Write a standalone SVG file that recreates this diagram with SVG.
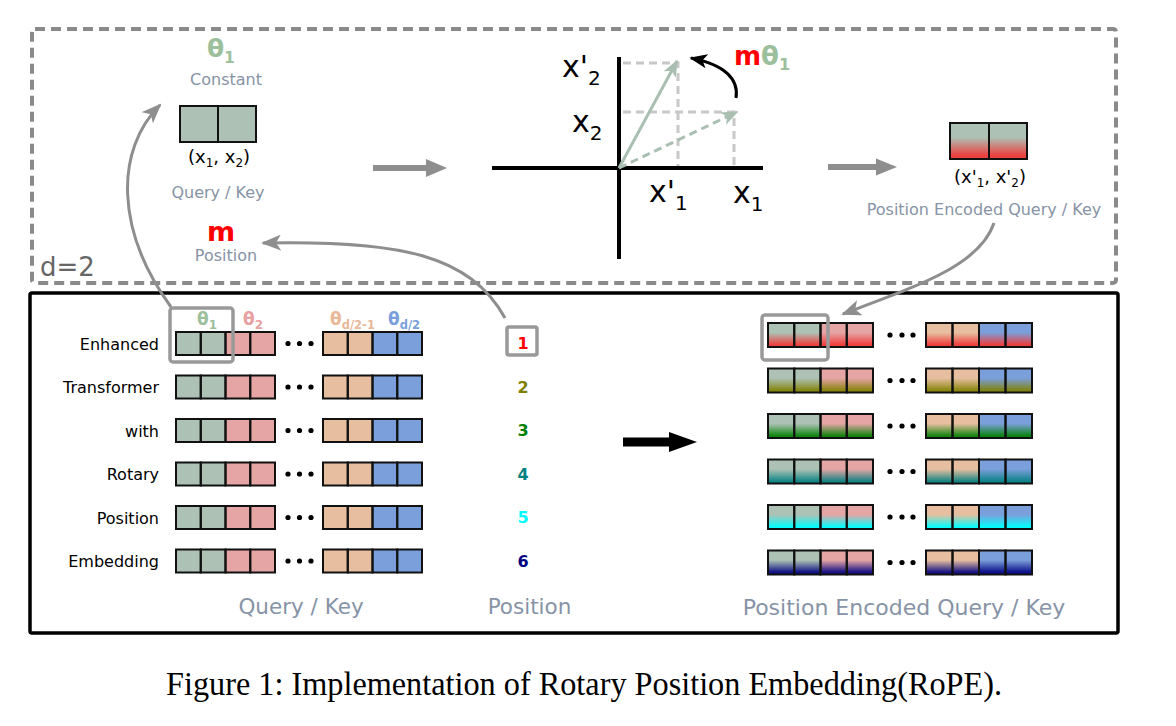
<svg xmlns="http://www.w3.org/2000/svg" xmlns:xlink="http://www.w3.org/1999/xlink" width="1176" height="726" viewBox="0 0 1176 726">
<style>
text{font-family:"DejaVu Sans","Liberation Sans",sans-serif}
text.cap{font-family:"Liberation Serif","Times New Roman",serif}
.lab{font-size:16px;fill:#8793a6}
.big{font-size:21.5px;fill:#8793a6}
.ax{font-size:30px;fill:#000}
.b{font-weight:bold}
.rl{font-size:16px;fill:#000;text-anchor:end}
.num{font-size:16px;font-weight:bold;text-anchor:middle}
.gr{fill:#adc2b5}.pk{fill:#e5a5a5}.pc{fill:#e7bfa0}.bl{fill:#7b9fdb}
.cs{stroke:#111;stroke-width:2;fill:none}
.hl{fill:none;stroke:#999;stroke-width:3.5}
.conn{fill:none;stroke:#8e8e8e;stroke-width:3}
.guide{fill:none;stroke:#c8c8c8;stroke-width:3;stroke-dasharray:8 5}
</style>
<defs>
<marker id="ah" viewBox="0 0 20 16" refX="18" refY="8" markerWidth="20" markerHeight="16" markerUnits="userSpaceOnUse" orient="auto"><path d="M0,0 L20,8 L0,16 L5,8 z" fill="#8e8e8e"/></marker>
<marker id="ahk" viewBox="0 0 20 16" refX="18" refY="8" markerWidth="18" markerHeight="15" markerUnits="userSpaceOnUse" orient="auto"><path d="M0,0 L20,8 L0,16 L5,8 z" fill="#000"/></marker>
<marker id="ahg" viewBox="0 0 20 16" refX="18" refY="8" markerWidth="17" markerHeight="14" markerUnits="userSpaceOnUse" orient="auto"><path d="M0,0 L20,8 L0,16 L5,8 z" fill="#a9bfb1"/></marker>
<linearGradient id="r1" x1="0" y1="0" x2="0" y2="1"><stop offset="0.4" stop-color="#f03a3a" stop-opacity="0"/><stop offset="0.9" stop-color="#f03a3a" stop-opacity="0.95"/></linearGradient>
<linearGradient id="r2" x1="0" y1="0" x2="0" y2="1"><stop offset="0.4" stop-color="#808000" stop-opacity="0"/><stop offset="0.9" stop-color="#808000" stop-opacity="0.9"/></linearGradient>
<linearGradient id="r3" x1="0" y1="0" x2="0" y2="1"><stop offset="0.4" stop-color="#008000" stop-opacity="0"/><stop offset="0.9" stop-color="#008000" stop-opacity="0.9"/></linearGradient>
<linearGradient id="r4" x1="0" y1="0" x2="0" y2="1"><stop offset="0.4" stop-color="#008080" stop-opacity="0"/><stop offset="0.9" stop-color="#008080" stop-opacity="0.9"/></linearGradient>
<linearGradient id="r5" x1="0" y1="0" x2="0" y2="1"><stop offset="0.4" stop-color="#00ffff" stop-opacity="0"/><stop offset="0.9" stop-color="#00ffff" stop-opacity="0.95"/></linearGradient>
<linearGradient id="r6" x1="0" y1="0" x2="0" y2="1"><stop offset="0.4" stop-color="#000080" stop-opacity="0"/><stop offset="0.9" stop-color="#000080" stop-opacity="0.9"/></linearGradient>
<g id="qk">
<rect class="gr" x="176" y="0" width="24.75" height="23"/><rect class="gr" x="200.75" y="0" width="24.75" height="23"/>
<rect class="pk" x="225.5" y="0" width="24.75" height="23"/><rect class="pk" x="250.25" y="0" width="24.75" height="23"/>
<rect class="pc" x="323" y="0" width="24.75" height="23"/><rect class="pc" x="347.75" y="0" width="24.75" height="23"/>
<rect class="bl" x="372.5" y="0" width="24.75" height="23"/><rect class="bl" x="397.25" y="0" width="24.75" height="23"/>
<g class="cs"><rect x="176" y="0" width="24.75" height="23"/><rect x="200.75" y="0" width="24.75" height="23"/><rect x="225.5" y="0" width="24.75" height="23"/><rect x="250.25" y="0" width="24.75" height="23"/>
<rect x="323" y="0" width="24.75" height="23"/><rect x="347.75" y="0" width="24.75" height="23"/><rect x="372.5" y="0" width="24.75" height="23"/><rect x="397.25" y="0" width="24.75" height="23"/></g>
<circle cx="288" cy="11.5" r="2.6"/><circle cx="299.5" cy="11.5" r="2.6"/><circle cx="311" cy="11.5" r="2.6"/>
</g>
<g id="pebase">
<rect class="gr" x="768" y="0" width="26.25" height="24"/><rect class="gr" x="794.25" y="0" width="26.25" height="24"/>
<rect class="pk" x="820.5" y="0" width="26.25" height="24"/><rect class="pk" x="846.75" y="0" width="26.25" height="24"/>
<rect class="pc" x="926" y="0" width="26.5" height="24"/><rect class="pc" x="952.5" y="0" width="26.5" height="24"/>
<rect class="bl" x="979" y="0" width="26.5" height="24"/><rect class="bl" x="1005.5" y="0" width="26.5" height="24"/>
</g>
<g id="pegrid">
<g class="cs"><rect x="768" y="0" width="26.25" height="24"/><rect x="794.25" y="0" width="26.25" height="24"/><rect x="820.5" y="0" width="26.25" height="24"/><rect x="846.75" y="0" width="26.25" height="24"/>
<rect x="926" y="0" width="26.5" height="24"/><rect x="952.5" y="0" width="26.5" height="24"/><rect x="979" y="0" width="26.5" height="24"/><rect x="1005.5" y="0" width="26.5" height="24"/></g>
<circle cx="890" cy="12" r="2.6"/><circle cx="902" cy="12" r="2.6"/><circle cx="913" cy="12" r="2.6"/>
</g>
</defs>
<rect width="1176" height="726" fill="#fff"/>

<!-- frames -->
<g id="frame-d2">
<rect x="32" y="29" width="1084" height="254" rx="3" fill="none" stroke="#8a8a8a" stroke-width="4" stroke-dasharray="10 6"/>
<text x="40" y="276" font-size="26" fill="#666">d=2</text>
</g>
<g id="frame-main">
<rect x="30" y="293" width="1088" height="340" rx="2" fill="none" stroke="#000" stroke-width="3.5"/>
</g>

<!-- top left: constant / query key / position -->
<g id="theta-constant">
<text x="207" y="57" class="b" font-size="25" fill="#9cbf9c">θ<tspan font-size="15" dy="6">1</tspan></text>
<text x="226" y="85" class="lab" text-anchor="middle">Constant</text>
</g>
<g id="query-key-2d">
<rect class="gr" x="180" y="106" width="76" height="36"/>
<rect class="cs" x="180" y="106" width="38" height="36" stroke-width="2.5"/>
<rect class="cs" x="218" y="106" width="38" height="36" stroke-width="2.5"/>
<text x="219" y="163" font-size="18" text-anchor="middle">(x<tspan font-size="12" dy="4">1</tspan><tspan dy="-4">, x</tspan><tspan font-size="12" dy="4">2</tspan><tspan dy="-4">)</tspan></text>
<text x="218" y="198" class="lab" text-anchor="middle">Query / Key</text>
</g>
<g id="position-m">
<text x="221" y="241" class="b" font-size="27" fill="#ff0000" text-anchor="middle">m</text>
<text x="226" y="261" class="lab" text-anchor="middle">Position</text>
</g>

<!-- rotation plot -->
<g id="rotation-plot">
<path class="guide" d="M623 63 H678 V168 M623 112 H734 V168"/>
<line x1="492" y1="168" x2="763" y2="168" stroke="#000" stroke-width="4"/>
<line x1="619" y1="57" x2="619" y2="259" stroke="#000" stroke-width="4"/>
<line x1="619" y1="168" x2="677" y2="61" stroke="#a9bfb1" stroke-width="3" marker-end="url(#ahg)"/>
<line x1="619" y1="168" x2="737" y2="112" stroke="#a9bfb1" stroke-width="3" stroke-dasharray="8 5" marker-end="url(#ahg)"/>
<path d="M736 98 C739 80 726 65 691 58" fill="none" stroke="#000" stroke-width="3" marker-end="url(#ahk)"/>
<text x="562" y="77" class="ax">x'<tspan font-size="20" dy="8">2</tspan></text>
<text x="572" y="132" class="ax">x<tspan font-size="20" dy="8">2</tspan></text>
<text x="649" y="202" class="ax">x'<tspan font-size="20" dy="8">1</tspan></text>
<text x="733" y="203" class="ax">x<tspan font-size="20" dy="8">1</tspan></text>
<text x="734" y="65" class="b" font-size="26" fill="#ff0000">m<tspan fill="#9cbf9c">θ</tspan><tspan fill="#9cbf9c" font-size="16" dy="5">1</tspan></text>
</g>

<!-- top right -->
<g id="encoded-2d">
<rect class="gr" x="950" y="123" width="77" height="36"/>
<rect x="950" y="123" width="77" height="36" fill="url(#r1)"/>
<rect class="cs" x="950" y="123" width="39" height="36" stroke-width="2.5"/>
<rect class="cs" x="989" y="123" width="38" height="36" stroke-width="2.5"/>
<text x="990" y="183" font-size="18" text-anchor="middle">(x'<tspan font-size="12" dy="4">1</tspan><tspan dy="-4">, x'</tspan><tspan font-size="12" dy="4">2</tspan><tspan dy="-4">)</tspan></text>
<text x="984" y="215" class="lab" text-anchor="middle">Position Encoded Query / Key</text>
</g>

<!-- bottom left: query/key rows -->
<g id="theta-labels" class="b">
<text x="197" y="325" font-size="17" fill="#9cbf9c">θ<tspan font-size="12" dy="4">1</tspan></text>
<text x="243" y="325" font-size="17" fill="#e8a0a0">θ<tspan font-size="12" dy="4">2</tspan></text>
<text x="330" y="325" font-size="17" fill="#e8b898">θ<tspan font-size="11.5" dy="4">d/2-1</tspan></text>
<text x="388" y="325" font-size="17" fill="#7a9fdc">θ<tspan font-size="11.5" dy="4">d/2</tspan></text>
</g>
<g id="row-1"><text x="159" y="349.5" class="rl">Enhanced</text><use xlink:href="#qk" y="332"/></g>
<g id="row-2"><text x="159" y="393" class="rl">Transformer</text><use xlink:href="#qk" y="375.5"/></g>
<g id="row-3"><text x="159" y="436.5" class="rl">with</text><use xlink:href="#qk" y="419"/></g>
<g id="row-4"><text x="159" y="480" class="rl">Rotary</text><use xlink:href="#qk" y="462.5"/></g>
<g id="row-5"><text x="159" y="523.5" class="rl">Position</text><use xlink:href="#qk" y="506"/></g>
<g id="row-6"><text x="159" y="567" class="rl">Embedding</text><use xlink:href="#qk" y="549.5"/></g>
<g id="theta1-highlight"><rect class="hl" x="170" y="308" width="63" height="54" rx="3"/></g>
<text x="301" y="614" class="big" text-anchor="middle">Query / Key</text>

<!-- positions -->
<g id="positions">
<rect class="hl" x="507" y="327" width="30" height="28" rx="2"/>
<text x="523" y="349" class="num" fill="#ff0000">1</text>
<text x="523" y="392.5" class="num" fill="#808000">2</text>
<text x="523" y="436" class="num" fill="#008000">3</text>
<text x="523" y="479.5" class="num" fill="#008080">4</text>
<text x="523" y="523" class="num" fill="#00ffff">5</text>
<text x="523" y="566.5" class="num" fill="#000080">6</text>
<text x="529.5" y="614" class="big" text-anchor="middle">Position</text>
</g>

<!-- bottom right: encoded rows -->
<g id="pe-row-1"><use xlink:href="#pebase" y="323"/><rect x="768" y="323" width="105" height="24" fill="url(#r1)"/><rect x="926" y="323" width="106" height="24" fill="url(#r1)"/><use xlink:href="#pegrid" y="323"/></g>
<g id="pe-row-2"><use xlink:href="#pebase" y="368.5"/><rect x="768" y="368.5" width="105" height="24" fill="url(#r2)"/><rect x="926" y="368.5" width="106" height="24" fill="url(#r2)"/><use xlink:href="#pegrid" y="368.5"/></g>
<g id="pe-row-3"><use xlink:href="#pebase" y="414"/><rect x="768" y="414" width="105" height="24" fill="url(#r3)"/><rect x="926" y="414" width="106" height="24" fill="url(#r3)"/><use xlink:href="#pegrid" y="414"/></g>
<g id="pe-row-4"><use xlink:href="#pebase" y="459.5"/><rect x="768" y="459.5" width="105" height="24" fill="url(#r4)"/><rect x="926" y="459.5" width="106" height="24" fill="url(#r4)"/><use xlink:href="#pegrid" y="459.5"/></g>
<g id="pe-row-5"><use xlink:href="#pebase" y="505"/><rect x="768" y="505" width="105" height="24" fill="url(#r5)"/><rect x="926" y="505" width="106" height="24" fill="url(#r5)"/><use xlink:href="#pegrid" y="505"/></g>
<g id="pe-row-6"><use xlink:href="#pebase" y="550.5"/><rect x="768" y="550.5" width="105" height="24" fill="url(#r6)"/><rect x="926" y="550.5" width="106" height="24" fill="url(#r6)"/><use xlink:href="#pegrid" y="550.5"/></g>
<g id="pe-highlight"><rect class="hl" x="762" y="315" width="66" height="45" rx="3"/></g>
<text x="904" y="615" font-size="22" fill="#8793a6" text-anchor="middle">Position Encoded Query / Key</text>

<!-- connectors -->
<g id="connectors">
<path class="conn" d="M171 307 C115 230 115 150 160 105" marker-end="url(#ah)"/>
<path class="conn" d="M505 318 C470 255 400 240 263 243" marker-end="url(#ah)"/>
<path class="conn" d="M994 223 C980 265 920 285 843 314" marker-end="url(#ah)"/>
<line x1="373" y1="168" x2="430" y2="168" stroke="#8e8e8e" stroke-width="6"/>
<polygon points="426,159 447,168 426,177" fill="#8e8e8e"/>
<line x1="828" y1="167" x2="880" y2="167" stroke="#8e8e8e" stroke-width="6"/>
<polygon points="876,158.5 897,167 876,175.5" fill="#8e8e8e"/>
<line x1="623" y1="442" x2="673" y2="442" stroke="#000" stroke-width="9"/>
<polygon points="669,432 697,442 669,452" fill="#000"/>
</g>

<text class="cap" x="584" y="695" font-size="33" text-anchor="middle" textLength="836" lengthAdjust="spacingAndGlyphs" fill="#000">Figure 1: Implementation of Rotary Position Embedding(RoPE).</text>
</svg>
